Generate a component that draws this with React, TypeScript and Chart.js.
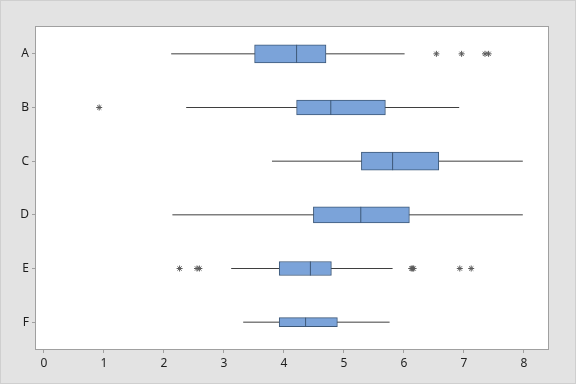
import React, { useEffect, useRef } from "react";
import { Chart, registerables } from "chart.js";

Chart.register(...registerables);

const categories = ["A", "B", "C", "D", "E", "F"];
const whiskerLow = [2.12, 2.37, 3.8, 2.14, 3.12, 3.32];
const q1 = [3.51, 4.21, 5.29, 4.49, 3.92, 3.92];
const median = [4.21, 4.78, 5.81, 5.28, 4.44, 4.36];
const q3 = [4.7, 5.69, 6.58, 6.09, 4.79, 4.89];
const whiskerHigh = [6.01, 6.92, 7.98, 7.98, 5.81, 5.76];
const outlierCategory = ["A", "A", "A", "A", "B", "E", "E", "E", "E", "E", "E", "E", "E"];
const outlierValue = [6.54, 6.96, 7.35, 7.41, 0.92, 2.26, 2.55, 2.59, 6.12, 6.14, 6.16, 6.93, 7.12];
const xTicks = [0, 1, 2, 3, 4, 5, 6, 7, 8];

const boxThickness = [18, 15, 18, 16, 14, 9];
const BOX_FILL = "#7ba3d9";
const BOX_EDGE = "#3d5878";
const LINE_COL = "#3f3f3f";
const FONT = { family: "'Noto Sans', 'DejaVu Sans', sans-serif", size: 12 };

const framePlugin = {
  id: "frame",
  beforeDraw(chart: any) {
    const { ctx, chartArea: a, width, height } = chart;
    ctx.save();
    ctx.fillStyle = "#e3e3e3";
    ctx.fillRect(0, 0, width, height);
    ctx.strokeStyle = "#cfcfcf";
    ctx.lineWidth = 1;
    ctx.strokeRect(0.5, 0.5, width - 1, height - 1);
    ctx.fillStyle = "#ffffff";
    ctx.fillRect(a.left, a.top, a.right - a.left, a.bottom - a.top);
    ctx.restore();
  },
  afterDraw(chart: any) {
    const { ctx, chartArea: a } = chart;
    ctx.save();
    ctx.strokeStyle = "#a0a0a0";
    ctx.lineWidth = 1;
    ctx.strokeRect(Math.round(a.left) - 0.5, Math.round(a.top) - 0.5, Math.round(a.right - a.left) + 1, Math.round(a.bottom - a.top) + 1);
    ctx.restore();
  },
};

export default function App() {
  const ref = useRef<HTMLCanvasElement | null>(null);

  useEffect(() => {
    if (!ref.current) return;
    const whiskers = categories.map((c, i) => ({
      type: "line" as const,
      data: [
        { x: whiskerLow[i], y: c },
        { x: whiskerHigh[i], y: c },
      ],
      borderColor: LINE_COL,
      borderWidth: 1,
      pointRadius: 0,
      fill: false,
      order: 5,
    }));
    const boxes = categories.map((c, i) => ({
      type: "bar" as const,
      indexAxis: "y" as const,
      data: categories.map((_, j) => (j === i ? [q1[i], q3[i]] : null)),
      barThickness: boxThickness[i],
      grouped: false,
      backgroundColor: BOX_FILL,
      borderColor: BOX_EDGE,
      borderWidth: 1,
      borderSkipped: false,
      order: 3,
    }));
    const medians = {
      type: "scatter" as const,
      data: categories.map((c, i) => ({ x: median[i], y: c })),
      pointStyle: "line",
      rotation: 90,
      radius: boxThickness.map((t) => t / 2),
      borderColor: BOX_EDGE,
      borderWidth: 1,
      order: 1,
    };
    const outliers = {
      type: "scatter" as const,
      data: outlierValue.map((v, i) => ({ x: v, y: outlierCategory[i] })),
      pointStyle: "star",
      radius: 3,
      borderColor: "#5a5a5a",
      backgroundColor: "#5a5a5a",
      borderWidth: 1,
      order: 0,
    };

    const chart = new Chart(ref.current, {
      type: "bar",
      data: {
        labels: categories,
        datasets: [...whiskers, ...boxes, medians, outliers] as any,
      },
      plugins: [framePlugin],
      options: {
        animation: false,
        responsive: false,
        devicePixelRatio: 1,
        indexAxis: "y",
        layout: { padding: { top: 27, right: 28, left: 0, bottom: 0 } },
        plugins: {
          legend: { display: false },
          tooltip: { enabled: false },
          title: { display: false },
        },
        scales: {
          x: {
            type: "linear",
            min: -0.133,
            max: 8.4,
            afterBuildTicks: (s: any) => {
              s.ticks = xTicks.map((v) => ({ value: v }));
            },
            afterFit: (s: any) => {
              s.height = 35;
            },
            ticks: {
              includeBounds: false,
              color: "#1e1e1e",
              font: FONT,
              padding: 3,
              maxRotation: 0,
            },
            grid: {
              display: true,
              drawOnChartArea: false,
              drawTicks: true,
              tickLength: 4,
              tickColor: "#a0a0a0",
            },
            border: { display: false },
          },
          y: {
            type: "category",
            labels: categories,
            offset: true,
            afterFit: (s: any) => {
              s.width = 36;
            },
            ticks: { color: "#1e1e1e", font: FONT, padding: 3 },
            grid: {
              display: true,
              drawOnChartArea: false,
              drawTicks: true,
              tickLength: 4,
              tickColor: "#a0a0a0",
              offset: false,
            },
            border: { display: false },
          },
        },
      } as any,
    });
    return () => chart.destroy();
  }, []);

  return (
    <div style={{ position: "fixed", left: 0, top: 0, width: 576, height: 384 }}>
      <canvas ref={ref} width={576} height={384} style={{ display: "block" }} />
    </div>
  );
}
